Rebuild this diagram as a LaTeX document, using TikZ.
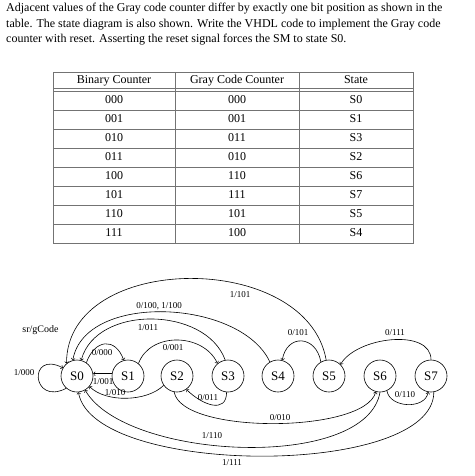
\documentclass[tikz,border=0pt]{standalone}
\usepackage{fontspec}
\setmainfont{Liberation Serif}
\newcommand{\TableRow}[5]{
	\node[cell] (bin#1) at (114,#2) {#3};
	\node[cell] (gray#1) at (237,#2) {#4};
	\node[cell] (code#1) at (356,#2) {#5};
}
\begin{document}
\begin{tikzpicture}[x=1pt,y=1pt,
	para/.style={anchor=base west, inner sep=0pt, font=\fontsize{12}{14}\selectfont},
	cell/.style={inner sep=0pt, text height=8pt, text depth=2.5pt, font=\fontsize{12}{14}\selectfont},
	grid/.style={draw=black!55, line width=0.6pt},
	state/.style={circle, draw, line width=0.6pt, minimum size=32pt, inner sep=0pt, font=\fontsize{13}{15}\selectfont},
	trans/.style={->, line width=0.6pt},
	lbl/.style={inner sep=0pt, font=\fontsize{9}{10}\selectfont}]
		\useasboundingbox (0,0) rectangle (474,-476);
		\node[para] (line1) at (6,-12) {Adjacent values of the Gray code counter differ by exactly one bit position as shown in the};
		\node[para] (line2) at (6,-27.5) {table. The state diagram is also shown. Write the VHDL code to implement the Gray code};
		\node[para] (line3) at (6,-43) {counter with reset. Asserting the reset signal forces the SM to state S0.};
		\draw[grid] (53,-72.3) rectangle (413,-243.3);
		\draw[grid] (175,-72.3) -- (175,-243.3);
		\draw[grid] (299,-72.3) -- (299,-243.3);
		\draw[grid] (53,-88.5) -- (413,-88.5);
		\draw[grid] (53,-91) -- (413,-91);
		\draw[grid] (53,-110.5) -- (413,-110.5);
		\draw[grid] (53,-129.3) -- (413,-129.3);
		\draw[grid] (53,-148.3) -- (413,-148.3);
		\draw[grid] (53,-167.3) -- (413,-167.3);
		\draw[grid] (53,-186) -- (413,-186);
		\draw[grid] (53,-205) -- (413,-205);
		\draw[grid] (53,-224) -- (413,-224);
		\node[cell] (binhead) at (114,-80.4) {Binary Counter};
		\node[cell] (grayhead) at (237,-80.4) {Gray Code Counter};
		\node[cell] (codehead) at (356,-80.4) {State};
		\TableRow{0}{-100.75}{000}{000}{S0}
		\TableRow{1}{-119.9}{001}{001}{S1}
		\TableRow{2}{-138.8}{010}{011}{S3}
		\TableRow{3}{-157.8}{011}{010}{S2}
		\TableRow{4}{-176.7}{100}{110}{S6}
		\TableRow{5}{-195.5}{101}{111}{S7}
		\TableRow{6}{-214.5}{110}{101}{S5}
		\TableRow{7}{-233.7}{111}{100}{S4}
		\node[state] (S0) at (77,-376) {S0};
		\node[state] (S1) at (128,-376) {S1};
		\node[state] (S2) at (177,-376) {S2};
		\node[state] (S3) at (228,-376) {S3};
		\node[state] (S4) at (278,-376) {S4};
		\node[state] (S5) at (329,-376) {S5};
		\node[state] (S6) at (380,-376) {S6};
		\node[state] (S7) at (431,-376) {S7};
		\draw[trans] (S0.229) .. controls +(-35,-18) and +(-35,18) .. (S0.150);
		\draw[trans] (S0.55) to[out=70,in=110,looseness=1.7] (S1.105);
		\draw[trans] (S1.172) -- (S0.8);
		\draw[trans] (S2.215) to[out=225,in=-45,looseness=0.8] (S0.-40);
		\draw[trans] (S1.50) to[out=70,in=115,looseness=1.1] (S3.130);
		\draw[trans] (S3.-95) to[out=-90,in=-45,looseness=1.4] (S2.-55);
		\draw[trans] (S3.100) to[out=110,in=75,looseness=1.02] (S0.75);
		\draw[trans] (S4.120) to[out=115,in=80,looseness=0.9] (S0.105);
		\draw[trans] (S5.100) to[out=100,in=90,looseness=1.1] (S0.130);
		\draw[trans] (S5.120) to[out=100,in=80,looseness=1.8] (S4.75);
		\draw[trans] (S7.90) to[out=90,in=60,looseness=0.9] (S5.45);
		\draw[trans] (S6.-65) to[out=-80,in=-100,looseness=1.1] (S7.-100);
		\draw[trans] (S2.-100) to[out=-80,in=-105,looseness=0.55] (S6.-105);
		\draw[trans] (S6.-90) to[out=-100,in=-60,looseness=0.7] (S0.-60);
		\draw[trans] (S7.-80) to[out=-90,in=-80,looseness=0.62] (S0.-85);
		\node[lbl, font=\fontsize{10}{12}\selectfont] (reset) at (40.5,-330) {sr/gCode};
		\node[lbl] (l000) at (24,-373) {1/000};
		\node[lbl] (l0000) at (102,-353) {0/000};
		\node[lbl] (l1001) at (103,-382) {1/001};
		\node[lbl] (l1010) at (115,-393) {1/010};
		\node[lbl] (l0001) at (173,-348) {0/001};
		\node[lbl] (l0011) at (208,-398) {0/011};
		\node[lbl] (l1011) at (148,-328) {1/011};
		\node[lbl] (l0100) at (159,-306) {0/100, 1/100};
		\node[lbl] (l1101) at (240,-295) {1/101};
		\node[lbl] (l0101) at (298,-333) {0/101};
		\node[lbl] (l0111) at (395,-333) {0/111};
		\node[lbl] (l0110) at (405,-395) {0/110};
		\node[lbl] (l0010) at (280,-418) {0/010};
		\node[lbl] (l1110) at (212,-436) {1/110};
		\node[lbl] (l1111) at (232,-463) {1/111};
	\end{tikzpicture}
\end{document}
